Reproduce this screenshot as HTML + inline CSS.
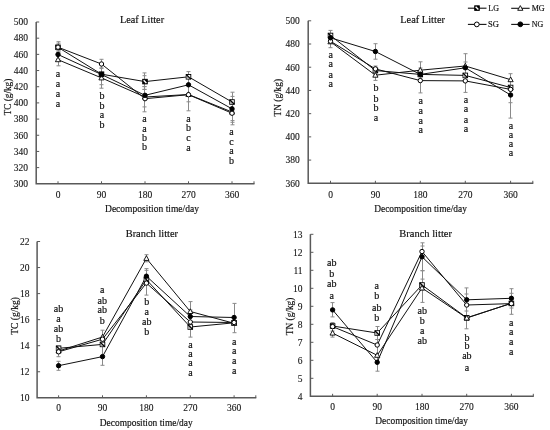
<!DOCTYPE html>
<html><head><meta charset="utf-8"><title>Chart</title>
<style>html,body{margin:0;padding:0;background:#fff;width:550px;height:430px;overflow:hidden}</style>
</head><body>
<svg width="550" height="430" viewBox="0 0 550 430" style="display:block;filter:blur(0.3px)" font-family='"Liberation Serif", serif' fill="#111"><style>.t{stroke:#111;stroke-width:0.18px}.tk{stroke-width:0.1px}</style>
<rect width="550" height="430" fill="#fff"/>
<path d="M36.2 22 V183.8 H254.5" fill="none" stroke="#595959" stroke-width="1.5"/>
<text class="t tk" x="27.9" y="187.1" font-size="9.5" text-anchor="end">300</text>
<path d="M36.2 167.62 h3" stroke="#595959" stroke-width="1"/>
<text class="t tk" x="27.9" y="170.92" font-size="9.5" text-anchor="end">320</text>
<path d="M36.2 151.44 h3" stroke="#595959" stroke-width="1"/>
<text class="t tk" x="27.9" y="154.74" font-size="9.5" text-anchor="end">340</text>
<path d="M36.2 135.26 h3" stroke="#595959" stroke-width="1"/>
<text class="t tk" x="27.9" y="138.56" font-size="9.5" text-anchor="end">360</text>
<path d="M36.2 119.08 h3" stroke="#595959" stroke-width="1"/>
<text class="t tk" x="27.9" y="122.38" font-size="9.5" text-anchor="end">380</text>
<path d="M36.2 102.9 h3" stroke="#595959" stroke-width="1"/>
<text class="t tk" x="27.9" y="106.2" font-size="9.5" text-anchor="end">400</text>
<path d="M36.2 86.72 h3" stroke="#595959" stroke-width="1"/>
<text class="t tk" x="27.9" y="90.02" font-size="9.5" text-anchor="end">420</text>
<path d="M36.2 70.54 h3" stroke="#595959" stroke-width="1"/>
<text class="t tk" x="27.9" y="73.84" font-size="9.5" text-anchor="end">440</text>
<path d="M36.2 54.36 h3" stroke="#595959" stroke-width="1"/>
<text class="t tk" x="27.9" y="57.66" font-size="9.5" text-anchor="end">460</text>
<path d="M36.2 38.18 h3" stroke="#595959" stroke-width="1"/>
<text class="t tk" x="27.9" y="41.48" font-size="9.5" text-anchor="end">480</text>
<path d="M36.2 22 h3" stroke="#595959" stroke-width="1"/>
<text class="t tk" x="27.9" y="25.3" font-size="9.5" text-anchor="end">500</text>
<path d="M58 183.8 v-2.5" stroke="#595959" stroke-width="1"/>
<text class="t tk" x="58" y="198.3" font-size="9.5" text-anchor="middle">0</text>
<path d="M101.5 183.8 v-2.5" stroke="#595959" stroke-width="1"/>
<text class="t tk" x="101.5" y="198.3" font-size="9.5" text-anchor="middle">90</text>
<path d="M145 183.8 v-2.5" stroke="#595959" stroke-width="1"/>
<text class="t tk" x="145" y="198.3" font-size="9.5" text-anchor="middle">180</text>
<path d="M188.5 183.8 v-2.5" stroke="#595959" stroke-width="1"/>
<text class="t tk" x="188.5" y="198.3" font-size="9.5" text-anchor="middle">270</text>
<path d="M232 183.8 v-2.5" stroke="#595959" stroke-width="1"/>
<text class="t tk" x="232" y="198.3" font-size="9.5" text-anchor="middle">360</text>
<path d="M254 183.8 v-2.5" stroke="#595959" stroke-width="1"/>
<text class="t" x="142" y="22.9" font-size="11" text-anchor="middle" textLength="44.2" lengthAdjust="spacingAndGlyphs">Leaf Litter</text>
<text class="t" x="152" y="212" font-size="10.5" text-anchor="middle" textLength="94" lengthAdjust="spacingAndGlyphs">Decomposition time/day</text>
<text class="t" transform="translate(11.2 97) rotate(-90)" font-size="9.5" text-anchor="middle" textLength="36.6" lengthAdjust="spacingAndGlyphs">TC (g/kg)</text>
<path d="M58.5 41.7 V52 M56.5 41.7 h4 M56.5 52 h4" stroke="#8a8a8a" stroke-width="1" fill="none"/>
<path d="M58.5 43.2 V51 M56.5 43.2 h4 M56.5 51 h4" stroke="#8a8a8a" stroke-width="1" fill="none"/>
<path d="M58.5 50 V59 M56.5 50 h4 M56.5 59 h4" stroke="#8a8a8a" stroke-width="1" fill="none"/>
<path d="M58.5 53 V65.8 M56.5 53 h4 M56.5 65.8 h4" stroke="#8a8a8a" stroke-width="1" fill="none"/>
<path d="M101.5 59.3 V67.9 M99.5 59.3 h4 M99.5 67.9 h4" stroke="#8a8a8a" stroke-width="1" fill="none"/>
<path d="M101.5 64.4 V84.7 M99.5 64.4 h4 M99.5 84.7 h4" stroke="#8a8a8a" stroke-width="1" fill="none"/>
<path d="M101.5 68.3 V88.2 M99.5 68.3 h4 M99.5 88.2 h4" stroke="#8a8a8a" stroke-width="1" fill="none"/>
<path d="M144.5 72.9 V89.4 M142.5 72.9 h4 M142.5 89.4 h4" stroke="#8a8a8a" stroke-width="1" fill="none"/>
<path d="M144.5 75.7 V86.6 M142.5 75.7 h4 M142.5 86.6 h4" stroke="#8a8a8a" stroke-width="1" fill="none"/>
<path d="M144.5 86.6 V106.9 M142.5 86.6 h4 M142.5 106.9 h4" stroke="#8a8a8a" stroke-width="1" fill="none"/>
<path d="M144.5 89.4 V111.8 M142.5 89.4 h4 M142.5 111.8 h4" stroke="#8a8a8a" stroke-width="1" fill="none"/>
<path d="M188.5 71.6 V85 M186.5 71.6 h4 M186.5 85 h4" stroke="#8a8a8a" stroke-width="1" fill="none"/>
<path d="M188.5 85 V101.8 M186.5 85 h4 M186.5 101.8 h4" stroke="#8a8a8a" stroke-width="1" fill="none"/>
<path d="M188.5 94.9 V110.8 M186.5 94.9 h4 M186.5 110.8 h4" stroke="#8a8a8a" stroke-width="1" fill="none"/>
<path d="M232.5 92.2 V112 M230.5 92.2 h4 M230.5 112 h4" stroke="#8a8a8a" stroke-width="1" fill="none"/>
<path d="M232.5 96.4 V120.6 M230.5 96.4 h4 M230.5 120.6 h4" stroke="#8a8a8a" stroke-width="1" fill="none"/>
<path d="M232.5 104 V122.3 M230.5 104 h4 M230.5 122.3 h4" stroke="#8a8a8a" stroke-width="1" fill="none"/>
<path d="M232.5 110 V124.8 M230.5 110 h4 M230.5 124.8 h4" stroke="#8a8a8a" stroke-width="1" fill="none"/>
<path d="M58 47.3 L101.5 74.2 L145 81.6 L188.5 76.8 L232 102" fill="none" stroke="#111" stroke-width="1"/>
<path d="M58 59.7 L101.5 77.9 L145 97 L188.5 94.5 L232 112" fill="none" stroke="#111" stroke-width="1"/>
<path d="M58 47.2 L101.5 64 L145 98.7 L188.5 94.7 L232 113.2" fill="none" stroke="#111" stroke-width="1"/>
<path d="M58 54.5 L101.5 74.5 L145 95.3 L188.5 84.8 L232 108.8" fill="none" stroke="#111" stroke-width="1"/>
<rect x="55.7" y="45" width="4.6" height="4.6" fill="#fff" stroke="#000" stroke-width="0.9"/>
<path d="M56.1 46.38 L56.1 49.2 L58.92 49.2 Z" fill="#aaa"/>
<path d="M55.7 45 L60.3 49.6" stroke="#000" stroke-width="1.3"/>
<rect x="99.2" y="71.9" width="4.6" height="4.6" fill="#000" stroke="#000" stroke-width="0.9"/>
<path d="M100.12 72.82 L102.88 75.58" stroke="#fff" stroke-width="1.4"/>
<rect x="142.7" y="79.3" width="4.6" height="4.6" fill="#000" stroke="#000" stroke-width="0.9"/>
<path d="M143.62 80.22 L146.38 82.98" stroke="#fff" stroke-width="1.4"/>
<rect x="186.2" y="74.5" width="4.6" height="4.6" fill="#fff" stroke="#000" stroke-width="0.9"/>
<path d="M186.6 75.88 L186.6 78.7 L189.42 78.7 Z" fill="#aaa"/>
<path d="M186.2 74.5 L190.8 79.1" stroke="#000" stroke-width="1.3"/>
<rect x="229.7" y="99.7" width="4.6" height="4.6" fill="#fff" stroke="#000" stroke-width="0.9"/>
<path d="M230.1 101.08 L230.1 103.9 L232.92 103.9 Z" fill="#aaa"/>
<path d="M229.7 99.7 L234.3 104.3" stroke="#000" stroke-width="1.3"/>
<path d="M58 57 L60.6 61.7 L55.4 61.7 Z" fill="#fff" stroke="#000" stroke-width="0.9"/>
<path d="M101.5 75.2 L104.1 79.9 L98.9 79.9 Z" fill="#fff" stroke="#000" stroke-width="0.9"/>
<path d="M145 94.3 L147.6 99 L142.4 99 Z" fill="#fff" stroke="#000" stroke-width="0.9"/>
<path d="M188.5 91.8 L191.1 96.5 L185.9 96.5 Z" fill="#fff" stroke="#000" stroke-width="0.9"/>
<path d="M232 109.3 L234.6 114 L229.4 114 Z" fill="#fff" stroke="#000" stroke-width="0.9"/>
<circle cx="58" cy="47.2" r="2.2" fill="#fff" stroke="#000" stroke-width="1"/>
<circle cx="101.5" cy="64" r="2.2" fill="#fff" stroke="#000" stroke-width="1"/>
<circle cx="145" cy="98.7" r="2.2" fill="#fff" stroke="#000" stroke-width="1"/>
<circle cx="188.5" cy="94.7" r="2.2" fill="#fff" stroke="#000" stroke-width="1"/>
<circle cx="232" cy="113.2" r="2.2" fill="#fff" stroke="#000" stroke-width="1"/>
<circle cx="58" cy="54.5" r="2.2" fill="#000" stroke="#000" stroke-width="1"/>
<circle cx="101.5" cy="74.5" r="2.2" fill="#000" stroke="#000" stroke-width="1"/>
<circle cx="145" cy="95.3" r="2.2" fill="#000" stroke="#000" stroke-width="1"/>
<circle cx="188.5" cy="84.8" r="2.2" fill="#000" stroke="#000" stroke-width="1"/>
<circle cx="232" cy="108.8" r="2.2" fill="#000" stroke="#000" stroke-width="1"/>
<text class="t" x="58.1" y="76.6" font-size="10" text-anchor="middle">a</text>
<text class="t" x="58.1" y="86.8" font-size="10" text-anchor="middle">a</text>
<text class="t" x="58.1" y="96.9" font-size="10" text-anchor="middle">a</text>
<text class="t" x="58.1" y="106.7" font-size="10" text-anchor="middle">a</text>
<text class="t" x="102" y="99.2" font-size="10" text-anchor="middle">b</text>
<text class="t" x="102" y="108.9" font-size="10" text-anchor="middle">b</text>
<text class="t" x="102" y="118.4" font-size="10" text-anchor="middle">a</text>
<text class="t" x="102" y="128.3" font-size="10" text-anchor="middle">b</text>
<text class="t" x="144.6" y="121.7" font-size="10" text-anchor="middle">a</text>
<text class="t" x="144.6" y="131.5" font-size="10" text-anchor="middle">a</text>
<text class="t" x="144.6" y="141.4" font-size="10" text-anchor="middle">b</text>
<text class="t" x="144.6" y="150.3" font-size="10" text-anchor="middle">b</text>
<text class="t" x="188.6" y="121.5" font-size="10" text-anchor="middle">a</text>
<text class="t" x="188.6" y="130.6" font-size="10" text-anchor="middle">b</text>
<text class="t" x="188.6" y="141.2" font-size="10" text-anchor="middle">c</text>
<text class="t" x="188.6" y="150.8" font-size="10" text-anchor="middle">a</text>
<text class="t" x="231.6" y="134.8" font-size="10" text-anchor="middle">a</text>
<text class="t" x="231.6" y="144.5" font-size="10" text-anchor="middle">c</text>
<text class="t" x="231.6" y="153.9" font-size="10" text-anchor="middle">a</text>
<text class="t" x="231.6" y="164.2" font-size="10" text-anchor="middle">b</text>
<path d="M308.2 20.8 V183.3 H533.3" fill="none" stroke="#595959" stroke-width="1.5"/>
<text class="t tk" x="299.8" y="186.6" font-size="9.5" text-anchor="end">360</text>
<path d="M308.2 160.09 h3" stroke="#595959" stroke-width="1"/>
<text class="t tk" x="299.8" y="163.39" font-size="9.5" text-anchor="end">380</text>
<path d="M308.2 136.87 h3" stroke="#595959" stroke-width="1"/>
<text class="t tk" x="299.8" y="140.17" font-size="9.5" text-anchor="end">400</text>
<path d="M308.2 113.66 h3" stroke="#595959" stroke-width="1"/>
<text class="t tk" x="299.8" y="116.96" font-size="9.5" text-anchor="end">420</text>
<path d="M308.2 90.44 h3" stroke="#595959" stroke-width="1"/>
<text class="t tk" x="299.8" y="93.74" font-size="9.5" text-anchor="end">440</text>
<path d="M308.2 67.23 h3" stroke="#595959" stroke-width="1"/>
<text class="t tk" x="299.8" y="70.53" font-size="9.5" text-anchor="end">460</text>
<path d="M308.2 44.01 h3" stroke="#595959" stroke-width="1"/>
<text class="t tk" x="299.8" y="47.31" font-size="9.5" text-anchor="end">480</text>
<path d="M308.2 20.8 h3" stroke="#595959" stroke-width="1"/>
<text class="t tk" x="299.8" y="24.1" font-size="9.5" text-anchor="end">500</text>
<path d="M330.5 183.3 v-2.5" stroke="#595959" stroke-width="1"/>
<text class="t tk" x="330.5" y="198.3" font-size="9.5" text-anchor="middle">0</text>
<path d="M375.4 183.3 v-2.5" stroke="#595959" stroke-width="1"/>
<text class="t tk" x="375.4" y="198.3" font-size="9.5" text-anchor="middle">90</text>
<path d="M420.3 183.3 v-2.5" stroke="#595959" stroke-width="1"/>
<text class="t tk" x="420.3" y="198.3" font-size="9.5" text-anchor="middle">180</text>
<path d="M465.3 183.3 v-2.5" stroke="#595959" stroke-width="1"/>
<text class="t tk" x="465.3" y="198.3" font-size="9.5" text-anchor="middle">270</text>
<path d="M510.6 183.3 v-2.5" stroke="#595959" stroke-width="1"/>
<text class="t tk" x="510.6" y="198.3" font-size="9.5" text-anchor="middle">360</text>
<path d="M532.8 183.3 v-2.5" stroke="#595959" stroke-width="1"/>
<text class="t" x="422.6" y="22.7" font-size="11" text-anchor="middle" textLength="44.8" lengthAdjust="spacingAndGlyphs">Leaf Litter</text>
<text class="t" x="420.55" y="212" font-size="10.5" text-anchor="middle" textLength="92.7" lengthAdjust="spacingAndGlyphs">Decomposition time/day</text>
<text class="t" transform="translate(280.6 97.7) rotate(-90)" font-size="9.5" text-anchor="middle" textLength="37.4" lengthAdjust="spacingAndGlyphs">TN (g/kg)</text>
<path d="M330.5 30.4 V41 M328.5 30.4 h4 M328.5 41 h4" stroke="#8a8a8a" stroke-width="1" fill="none"/>
<path d="M330.5 34 V47.7 M328.5 34 h4 M328.5 47.7 h4" stroke="#8a8a8a" stroke-width="1" fill="none"/>
<path d="M375.5 43.7 V59.2 M373.5 43.7 h4 M373.5 59.2 h4" stroke="#8a8a8a" stroke-width="1" fill="none"/>
<path d="M375.5 66 V74 M373.5 66 h4 M373.5 74 h4" stroke="#8a8a8a" stroke-width="1" fill="none"/>
<path d="M375.5 70.6 V80.4 M373.5 70.6 h4 M373.5 80.4 h4" stroke="#8a8a8a" stroke-width="1" fill="none"/>
<path d="M420.5 61.8 V78 M418.5 61.8 h4 M418.5 78 h4" stroke="#8a8a8a" stroke-width="1" fill="none"/>
<path d="M420.5 68 V92.9 M418.5 68 h4 M418.5 92.9 h4" stroke="#8a8a8a" stroke-width="1" fill="none"/>
<path d="M465.5 53.7 V80 M463.5 53.7 h4 M463.5 80 h4" stroke="#8a8a8a" stroke-width="1" fill="none"/>
<path d="M465.5 62 V92.4 M463.5 62 h4 M463.5 92.4 h4" stroke="#8a8a8a" stroke-width="1" fill="none"/>
<path d="M510.5 73.7 V118.1 M508.5 73.7 h4 M508.5 118.1 h4" stroke="#8a8a8a" stroke-width="1" fill="none"/>
<path d="M510.5 80 V102.7 M508.5 80 h4 M508.5 102.7 h4" stroke="#8a8a8a" stroke-width="1" fill="none"/>
<path d="M330.5 35.5 L375.4 70.5 L420.3 74.4 L465.3 75.4 L510.6 87.5" fill="none" stroke="#111" stroke-width="1"/>
<path d="M330.5 41.8 L375.4 75.2 L420.3 70.2 L465.3 66 L510.6 79.7" fill="none" stroke="#111" stroke-width="1"/>
<path d="M330.5 41.2 L375.4 68.9 L420.3 80.6 L465.3 80.9 L510.6 89.4" fill="none" stroke="#111" stroke-width="1"/>
<path d="M330.5 37.8 L375.4 51.5 L420.3 74.4 L465.3 67.8 L510.6 95" fill="none" stroke="#111" stroke-width="1"/>
<rect x="328.2" y="33.2" width="4.6" height="4.6" fill="#fff" stroke="#000" stroke-width="0.9"/>
<path d="M328.6 34.58 L328.6 37.4 L331.42 37.4 Z" fill="#aaa"/>
<path d="M328.2 33.2 L332.8 37.8" stroke="#000" stroke-width="1.3"/>
<rect x="373.1" y="68.2" width="4.6" height="4.6" fill="#fff" stroke="#000" stroke-width="0.9"/>
<path d="M373.5 69.58 L373.5 72.4 L376.32 72.4 Z" fill="#aaa"/>
<path d="M373.1 68.2 L377.7 72.8" stroke="#000" stroke-width="1.3"/>
<rect x="418" y="72.1" width="4.6" height="4.6" fill="#fff" stroke="#000" stroke-width="0.9"/>
<path d="M418.4 73.48 L418.4 76.3 L421.22 76.3 Z" fill="#aaa"/>
<path d="M418 72.1 L422.6 76.7" stroke="#000" stroke-width="1.3"/>
<rect x="463" y="73.1" width="4.6" height="4.6" fill="#fff" stroke="#000" stroke-width="0.9"/>
<path d="M463.4 74.48 L463.4 77.3 L466.22 77.3 Z" fill="#aaa"/>
<path d="M463 73.1 L467.6 77.7" stroke="#000" stroke-width="1.3"/>
<rect x="508.3" y="85.2" width="4.6" height="4.6" fill="#fff" stroke="#000" stroke-width="0.9"/>
<path d="M508.7 86.58 L508.7 89.4 L511.52 89.4 Z" fill="#aaa"/>
<path d="M508.3 85.2 L512.9 89.8" stroke="#000" stroke-width="1.3"/>
<path d="M330.5 39.1 L333.1 43.8 L327.9 43.8 Z" fill="#fff" stroke="#000" stroke-width="0.9"/>
<path d="M375.4 72.5 L378 77.2 L372.8 77.2 Z" fill="#fff" stroke="#000" stroke-width="0.9"/>
<path d="M420.3 67.5 L422.9 72.2 L417.7 72.2 Z" fill="#fff" stroke="#000" stroke-width="0.9"/>
<path d="M465.3 63.3 L467.9 68 L462.7 68 Z" fill="#fff" stroke="#000" stroke-width="0.9"/>
<path d="M510.6 77 L513.2 81.7 L508 81.7 Z" fill="#fff" stroke="#000" stroke-width="0.9"/>
<circle cx="330.5" cy="41.2" r="2.2" fill="#fff" stroke="#000" stroke-width="1"/>
<circle cx="375.4" cy="68.9" r="2.2" fill="#fff" stroke="#000" stroke-width="1"/>
<circle cx="420.3" cy="80.6" r="2.2" fill="#fff" stroke="#000" stroke-width="1"/>
<circle cx="465.3" cy="80.9" r="2.2" fill="#fff" stroke="#000" stroke-width="1"/>
<circle cx="510.6" cy="89.4" r="2.2" fill="#fff" stroke="#000" stroke-width="1"/>
<circle cx="330.5" cy="37.8" r="2.2" fill="#000" stroke="#000" stroke-width="1"/>
<circle cx="375.4" cy="51.5" r="2.2" fill="#000" stroke="#000" stroke-width="1"/>
<circle cx="420.3" cy="74.4" r="2.2" fill="#000" stroke="#000" stroke-width="1"/>
<circle cx="465.3" cy="67.8" r="2.2" fill="#000" stroke="#000" stroke-width="1"/>
<circle cx="510.6" cy="95" r="2.2" fill="#000" stroke="#000" stroke-width="1"/>
<text class="t" x="330.7" y="58" font-size="10" text-anchor="middle">a</text>
<text class="t" x="330.7" y="67.2" font-size="10" text-anchor="middle">a</text>
<text class="t" x="330.7" y="77.8" font-size="10" text-anchor="middle">a</text>
<text class="t" x="330.7" y="86.9" font-size="10" text-anchor="middle">a</text>
<text class="t" x="376" y="91" font-size="10" text-anchor="middle">b</text>
<text class="t" x="376" y="101.5" font-size="10" text-anchor="middle">b</text>
<text class="t" x="376" y="111.4" font-size="10" text-anchor="middle">b</text>
<text class="t" x="376" y="120.8" font-size="10" text-anchor="middle">a</text>
<text class="t" x="420.7" y="103.5" font-size="10" text-anchor="middle">a</text>
<text class="t" x="420.7" y="113.5" font-size="10" text-anchor="middle">a</text>
<text class="t" x="420.7" y="124" font-size="10" text-anchor="middle">a</text>
<text class="t" x="420.7" y="133" font-size="10" text-anchor="middle">a</text>
<text class="t" x="466" y="102.7" font-size="10" text-anchor="middle">a</text>
<text class="t" x="466" y="112.4" font-size="10" text-anchor="middle">a</text>
<text class="t" x="466" y="122.6" font-size="10" text-anchor="middle">a</text>
<text class="t" x="466" y="132.1" font-size="10" text-anchor="middle">a</text>
<text class="t" x="511" y="128.6" font-size="10" text-anchor="middle">a</text>
<text class="t" x="511" y="137.5" font-size="10" text-anchor="middle">a</text>
<text class="t" x="511" y="146.9" font-size="10" text-anchor="middle">a</text>
<text class="t" x="511" y="156.4" font-size="10" text-anchor="middle">a</text>
<path d="M37.1 241.5 V397.8 H256.3" fill="none" stroke="#595959" stroke-width="1.5"/>
<text class="t tk" x="29.6" y="401.1" font-size="9.5" text-anchor="end">10</text>
<path d="M37.1 371.75 h3" stroke="#595959" stroke-width="1"/>
<text class="t tk" x="29.6" y="375.05" font-size="9.5" text-anchor="end">12</text>
<path d="M37.1 345.7 h3" stroke="#595959" stroke-width="1"/>
<text class="t tk" x="29.6" y="349" font-size="9.5" text-anchor="end">14</text>
<path d="M37.1 319.65 h3" stroke="#595959" stroke-width="1"/>
<text class="t tk" x="29.6" y="322.95" font-size="9.5" text-anchor="end">16</text>
<path d="M37.1 293.6 h3" stroke="#595959" stroke-width="1"/>
<text class="t tk" x="29.6" y="296.9" font-size="9.5" text-anchor="end">18</text>
<path d="M37.1 267.55 h3" stroke="#595959" stroke-width="1"/>
<text class="t tk" x="29.6" y="270.85" font-size="9.5" text-anchor="end">20</text>
<path d="M37.1 241.5 h3" stroke="#595959" stroke-width="1"/>
<text class="t tk" x="29.6" y="244.8" font-size="9.5" text-anchor="end">22</text>
<path d="M58.6 397.8 v-2.5" stroke="#595959" stroke-width="1"/>
<text class="t tk" x="58.6" y="411.3" font-size="9.5" text-anchor="middle">0</text>
<path d="M102.5 397.8 v-2.5" stroke="#595959" stroke-width="1"/>
<text class="t tk" x="102.5" y="411.3" font-size="9.5" text-anchor="middle">90</text>
<path d="M146.4 397.8 v-2.5" stroke="#595959" stroke-width="1"/>
<text class="t tk" x="146.4" y="411.3" font-size="9.5" text-anchor="middle">180</text>
<path d="M190.3 397.8 v-2.5" stroke="#595959" stroke-width="1"/>
<text class="t tk" x="190.3" y="411.3" font-size="9.5" text-anchor="middle">270</text>
<path d="M234.1 397.8 v-2.5" stroke="#595959" stroke-width="1"/>
<text class="t tk" x="234.1" y="411.3" font-size="9.5" text-anchor="middle">360</text>
<path d="M255.8 397.8 v-2.5" stroke="#595959" stroke-width="1"/>
<text class="t" x="151.9" y="236.9" font-size="11" text-anchor="middle" textLength="52.4" lengthAdjust="spacingAndGlyphs">Branch litter</text>
<text class="t" x="146.2" y="425.7" font-size="10.5" text-anchor="middle" textLength="92.8" lengthAdjust="spacingAndGlyphs">Decomposition time/day</text>
<text class="t" transform="translate(17.6 315.9) rotate(-90)" font-size="9.5" text-anchor="middle" textLength="37.8" lengthAdjust="spacingAndGlyphs">TC (g/kg)</text>
<path d="M58.5 346 V351 M56.5 346 h4 M56.5 351 h4" stroke="#8a8a8a" stroke-width="1" fill="none"/>
<path d="M58.5 349 V356.7 M56.5 349 h4 M56.5 356.7 h4" stroke="#8a8a8a" stroke-width="1" fill="none"/>
<path d="M58.5 361.3 V370.3 M56.5 361.3 h4 M56.5 370.3 h4" stroke="#8a8a8a" stroke-width="1" fill="none"/>
<path d="M102.5 330.2 V346 M100.5 330.2 h4 M100.5 346 h4" stroke="#8a8a8a" stroke-width="1" fill="none"/>
<path d="M102.5 340 V365.3 M100.5 340 h4 M100.5 365.3 h4" stroke="#8a8a8a" stroke-width="1" fill="none"/>
<path d="M146.5 254.7 V261.8 M144.5 254.7 h4 M144.5 261.8 h4" stroke="#8a8a8a" stroke-width="1" fill="none"/>
<path d="M146.5 268.6 V284 M144.5 268.6 h4 M144.5 284 h4" stroke="#8a8a8a" stroke-width="1" fill="none"/>
<path d="M146.5 270.3 V295.1 M144.5 270.3 h4 M144.5 295.1 h4" stroke="#8a8a8a" stroke-width="1" fill="none"/>
<path d="M190.5 301.6 V322 M188.5 301.6 h4 M188.5 322 h4" stroke="#8a8a8a" stroke-width="1" fill="none"/>
<path d="M190.5 310 V337.1 M188.5 310 h4 M188.5 337.1 h4" stroke="#8a8a8a" stroke-width="1" fill="none"/>
<path d="M234.5 303.4 V332.7 M232.5 303.4 h4 M232.5 332.7 h4" stroke="#8a8a8a" stroke-width="1" fill="none"/>
<path d="M58.6 348.3 L102.5 344.4 L146.4 279.7 L190.3 327 L234.1 322.8" fill="none" stroke="#111" stroke-width="1"/>
<path d="M58.6 351 L102.5 337 L146.4 258.4 L190.3 311.5 L234.1 323.3" fill="none" stroke="#111" stroke-width="1"/>
<path d="M58.6 351.8 L102.5 339.2 L146.4 283.1 L190.3 322 L234.1 322.5" fill="none" stroke="#111" stroke-width="1"/>
<path d="M58.6 365.7 L102.5 356.6 L146.4 276.2 L190.3 316.5 L234.1 317.5" fill="none" stroke="#111" stroke-width="1"/>
<rect x="56.3" y="346" width="4.6" height="4.6" fill="#fff" stroke="#000" stroke-width="0.9"/>
<path d="M56.7 347.38 L56.7 350.2 L59.52 350.2 Z" fill="#aaa"/>
<path d="M56.3 346 L60.9 350.6" stroke="#000" stroke-width="1.3"/>
<rect x="100.2" y="342.1" width="4.6" height="4.6" fill="#fff" stroke="#000" stroke-width="0.9"/>
<path d="M100.6 343.48 L100.6 346.3 L103.42 346.3 Z" fill="#aaa"/>
<path d="M100.2 342.1 L104.8 346.7" stroke="#000" stroke-width="1.3"/>
<rect x="144.1" y="277.4" width="4.6" height="4.6" fill="#fff" stroke="#000" stroke-width="0.9"/>
<path d="M144.5 278.78 L144.5 281.6 L147.32 281.6 Z" fill="#aaa"/>
<path d="M144.1 277.4 L148.7 282" stroke="#000" stroke-width="1.3"/>
<rect x="188" y="324.7" width="4.6" height="4.6" fill="#fff" stroke="#000" stroke-width="0.9"/>
<path d="M188.4 326.08 L188.4 328.9 L191.22 328.9 Z" fill="#aaa"/>
<path d="M188 324.7 L192.6 329.3" stroke="#000" stroke-width="1.3"/>
<rect x="231.8" y="320.5" width="4.6" height="4.6" fill="#fff" stroke="#000" stroke-width="0.9"/>
<path d="M232.2 321.88 L232.2 324.7 L235.02 324.7 Z" fill="#aaa"/>
<path d="M231.8 320.5 L236.4 325.1" stroke="#000" stroke-width="1.3"/>
<path d="M58.6 348.3 L61.2 353 L56 353 Z" fill="#fff" stroke="#000" stroke-width="0.9"/>
<path d="M102.5 334.3 L105.1 339 L99.9 339 Z" fill="#fff" stroke="#000" stroke-width="0.9"/>
<path d="M146.4 255.7 L149 260.4 L143.8 260.4 Z" fill="#fff" stroke="#000" stroke-width="0.9"/>
<path d="M190.3 308.8 L192.9 313.5 L187.7 313.5 Z" fill="#fff" stroke="#000" stroke-width="0.9"/>
<path d="M234.1 320.6 L236.7 325.3 L231.5 325.3 Z" fill="#fff" stroke="#000" stroke-width="0.9"/>
<circle cx="58.6" cy="351.8" r="2.2" fill="#fff" stroke="#000" stroke-width="1"/>
<circle cx="102.5" cy="339.2" r="2.2" fill="#fff" stroke="#000" stroke-width="1"/>
<circle cx="146.4" cy="283.1" r="2.2" fill="#fff" stroke="#000" stroke-width="1"/>
<circle cx="190.3" cy="322" r="2.2" fill="#fff" stroke="#000" stroke-width="1"/>
<circle cx="234.1" cy="322.5" r="2.2" fill="#fff" stroke="#000" stroke-width="1"/>
<circle cx="58.6" cy="365.7" r="2.2" fill="#000" stroke="#000" stroke-width="1"/>
<circle cx="102.5" cy="356.6" r="2.2" fill="#000" stroke="#000" stroke-width="1"/>
<circle cx="146.4" cy="276.2" r="2.2" fill="#000" stroke="#000" stroke-width="1"/>
<circle cx="190.3" cy="316.5" r="2.2" fill="#000" stroke="#000" stroke-width="1"/>
<circle cx="234.1" cy="317.5" r="2.2" fill="#000" stroke="#000" stroke-width="1"/>
<text class="t" x="58.5" y="312.2" font-size="10" text-anchor="middle">ab</text>
<text class="t" x="58.5" y="322.1" font-size="10" text-anchor="middle">a</text>
<text class="t" x="58.5" y="332" font-size="10" text-anchor="middle">ab</text>
<text class="t" x="58.5" y="341.9" font-size="10" text-anchor="middle">b</text>
<text class="t" x="102.2" y="292.7" font-size="10" text-anchor="middle">a</text>
<text class="t" x="102.2" y="303.5" font-size="10" text-anchor="middle">ab</text>
<text class="t" x="102.2" y="313.4" font-size="10" text-anchor="middle">ab</text>
<text class="t" x="102.2" y="323.9" font-size="10" text-anchor="middle">b</text>
<text class="t" x="146.8" y="305.3" font-size="10" text-anchor="middle">b</text>
<text class="t" x="146.8" y="314.7" font-size="10" text-anchor="middle">a</text>
<text class="t" x="146.8" y="324.9" font-size="10" text-anchor="middle">ab</text>
<text class="t" x="146.8" y="334.8" font-size="10" text-anchor="middle">b</text>
<text class="t" x="190.6" y="347.6" font-size="10" text-anchor="middle">a</text>
<text class="t" x="190.6" y="357.4" font-size="10" text-anchor="middle">a</text>
<text class="t" x="190.6" y="366.4" font-size="10" text-anchor="middle">a</text>
<text class="t" x="190.6" y="375.7" font-size="10" text-anchor="middle">a</text>
<text class="t" x="234.2" y="344.9" font-size="10" text-anchor="middle">a</text>
<text class="t" x="234.2" y="354.2" font-size="10" text-anchor="middle">a</text>
<text class="t" x="234.2" y="363.7" font-size="10" text-anchor="middle">a</text>
<text class="t" x="234.2" y="373.6" font-size="10" text-anchor="middle">a</text>
<path d="M310.4 234.3 V396.3 H533.8" fill="none" stroke="#595959" stroke-width="1.5"/>
<text class="t tk" x="302.6" y="399.6" font-size="9.5" text-anchor="end">4</text>
<path d="M310.4 378.3 h3" stroke="#595959" stroke-width="1"/>
<text class="t tk" x="302.6" y="381.6" font-size="9.5" text-anchor="end">5</text>
<path d="M310.4 360.3 h3" stroke="#595959" stroke-width="1"/>
<text class="t tk" x="302.6" y="363.6" font-size="9.5" text-anchor="end">6</text>
<path d="M310.4 342.3 h3" stroke="#595959" stroke-width="1"/>
<text class="t tk" x="302.6" y="345.6" font-size="9.5" text-anchor="end">7</text>
<path d="M310.4 324.3 h3" stroke="#595959" stroke-width="1"/>
<text class="t tk" x="302.6" y="327.6" font-size="9.5" text-anchor="end">8</text>
<path d="M310.4 306.3 h3" stroke="#595959" stroke-width="1"/>
<text class="t tk" x="302.6" y="309.6" font-size="9.5" text-anchor="end">9</text>
<path d="M310.4 288.3 h3" stroke="#595959" stroke-width="1"/>
<text class="t tk" x="302.6" y="291.6" font-size="9.5" text-anchor="end">10</text>
<path d="M310.4 270.3 h3" stroke="#595959" stroke-width="1"/>
<text class="t tk" x="302.6" y="273.6" font-size="9.5" text-anchor="end">11</text>
<path d="M310.4 252.3 h3" stroke="#595959" stroke-width="1"/>
<text class="t tk" x="302.6" y="255.6" font-size="9.5" text-anchor="end">12</text>
<path d="M310.4 234.3 h3" stroke="#595959" stroke-width="1"/>
<text class="t tk" x="302.6" y="237.6" font-size="9.5" text-anchor="end">13</text>
<path d="M332.6 396.3 v-2.5" stroke="#595959" stroke-width="1"/>
<text class="t tk" x="332.6" y="409.8" font-size="9.5" text-anchor="middle">0</text>
<path d="M377.2 396.3 v-2.5" stroke="#595959" stroke-width="1"/>
<text class="t tk" x="377.2" y="409.8" font-size="9.5" text-anchor="middle">90</text>
<path d="M422 396.3 v-2.5" stroke="#595959" stroke-width="1"/>
<text class="t tk" x="422" y="409.8" font-size="9.5" text-anchor="middle">180</text>
<path d="M466.7 396.3 v-2.5" stroke="#595959" stroke-width="1"/>
<text class="t tk" x="466.7" y="409.8" font-size="9.5" text-anchor="middle">270</text>
<path d="M511.4 396.3 v-2.5" stroke="#595959" stroke-width="1"/>
<text class="t tk" x="511.4" y="409.8" font-size="9.5" text-anchor="middle">360</text>
<path d="M533.3 396.3 v-2.5" stroke="#595959" stroke-width="1"/>
<text class="t" x="425.65" y="236.6" font-size="11" text-anchor="middle" textLength="52.7" lengthAdjust="spacingAndGlyphs">Branch litter</text>
<text class="t" x="421.65" y="423.6" font-size="10.5" text-anchor="middle" textLength="92.7" lengthAdjust="spacingAndGlyphs">Decomposition time/day</text>
<text class="t" transform="translate(293.3 316.45) rotate(-90)" font-size="9.5" text-anchor="middle" textLength="37.7" lengthAdjust="spacingAndGlyphs">TN (g/kg)</text>
<path d="M332.5 302.6 V316.9 M330.5 302.6 h4 M330.5 316.9 h4" stroke="#8a8a8a" stroke-width="1" fill="none"/>
<path d="M332.5 322.6 V331 M330.5 322.6 h4 M330.5 331 h4" stroke="#8a8a8a" stroke-width="1" fill="none"/>
<path d="M332.5 328 V337.1 M330.5 328 h4 M330.5 337.1 h4" stroke="#8a8a8a" stroke-width="1" fill="none"/>
<path d="M377.5 326.5 V339.5 M375.5 326.5 h4 M375.5 339.5 h4" stroke="#8a8a8a" stroke-width="1" fill="none"/>
<path d="M377.5 339.5 V371.2 M375.5 339.5 h4 M375.5 371.2 h4" stroke="#8a8a8a" stroke-width="1" fill="none"/>
<path d="M422.5 242.8 V258.5 M420.5 242.8 h4 M420.5 258.5 h4" stroke="#8a8a8a" stroke-width="1" fill="none"/>
<path d="M422.5 246 V270.7 M420.5 246 h4 M420.5 270.7 h4" stroke="#8a8a8a" stroke-width="1" fill="none"/>
<path d="M422.5 279.1 V290 M420.5 279.1 h4 M420.5 290 h4" stroke="#8a8a8a" stroke-width="1" fill="none"/>
<path d="M422.5 270.7 V302.4 M420.5 270.7 h4 M420.5 302.4 h4" stroke="#8a8a8a" stroke-width="1" fill="none"/>
<path d="M466.5 287.9 V311 M464.5 287.9 h4 M464.5 311 h4" stroke="#8a8a8a" stroke-width="1" fill="none"/>
<path d="M466.5 294 V328.8 M464.5 294 h4 M464.5 328.8 h4" stroke="#8a8a8a" stroke-width="1" fill="none"/>
<path d="M511.5 288.7 V308 M509.5 288.7 h4 M509.5 308 h4" stroke="#8a8a8a" stroke-width="1" fill="none"/>
<path d="M511.5 293.3 V314.3 M509.5 293.3 h4 M509.5 314.3 h4" stroke="#8a8a8a" stroke-width="1" fill="none"/>
<path d="M332.6 326 L377.2 333 L422 285 L466.7 317.8 L511.4 303.4" fill="none" stroke="#111" stroke-width="1"/>
<path d="M332.6 333.1 L377.2 355.3 L422 288 L466.7 318 L511.4 303.2" fill="none" stroke="#111" stroke-width="1"/>
<path d="M332.6 326.6 L377.2 345 L422 251.5 L466.7 305 L511.4 303.6" fill="none" stroke="#111" stroke-width="1"/>
<path d="M332.6 309.9 L377.2 362.3 L422 256.8 L466.7 299.8 L511.4 298.3" fill="none" stroke="#111" stroke-width="1"/>
<rect x="330.3" y="323.7" width="4.6" height="4.6" fill="#fff" stroke="#000" stroke-width="0.9"/>
<path d="M330.7 325.08 L330.7 327.9 L333.52 327.9 Z" fill="#aaa"/>
<path d="M330.3 323.7 L334.9 328.3" stroke="#000" stroke-width="1.3"/>
<rect x="374.9" y="330.7" width="4.6" height="4.6" fill="#fff" stroke="#000" stroke-width="0.9"/>
<path d="M375.3 332.08 L375.3 334.9 L378.12 334.9 Z" fill="#aaa"/>
<path d="M374.9 330.7 L379.5 335.3" stroke="#000" stroke-width="1.3"/>
<rect x="419.7" y="282.7" width="4.6" height="4.6" fill="#fff" stroke="#000" stroke-width="0.9"/>
<path d="M420.1 284.08 L420.1 286.9 L422.92 286.9 Z" fill="#aaa"/>
<path d="M419.7 282.7 L424.3 287.3" stroke="#000" stroke-width="1.3"/>
<rect x="464.4" y="315.5" width="4.6" height="4.6" fill="#fff" stroke="#000" stroke-width="0.9"/>
<path d="M464.8 316.88 L464.8 319.7 L467.62 319.7 Z" fill="#aaa"/>
<path d="M464.4 315.5 L469 320.1" stroke="#000" stroke-width="1.3"/>
<rect x="509.1" y="301.1" width="4.6" height="4.6" fill="#fff" stroke="#000" stroke-width="0.9"/>
<path d="M509.5 302.48 L509.5 305.3 L512.32 305.3 Z" fill="#aaa"/>
<path d="M509.1 301.1 L513.7 305.7" stroke="#000" stroke-width="1.3"/>
<path d="M332.6 330.4 L335.2 335.1 L330 335.1 Z" fill="#fff" stroke="#000" stroke-width="0.9"/>
<path d="M377.2 352.6 L379.8 357.3 L374.6 357.3 Z" fill="#fff" stroke="#000" stroke-width="0.9"/>
<path d="M422 285.3 L424.6 290 L419.4 290 Z" fill="#fff" stroke="#000" stroke-width="0.9"/>
<path d="M466.7 315.3 L469.3 320 L464.1 320 Z" fill="#fff" stroke="#000" stroke-width="0.9"/>
<path d="M511.4 300.5 L514 305.2 L508.8 305.2 Z" fill="#fff" stroke="#000" stroke-width="0.9"/>
<circle cx="332.6" cy="326.6" r="2.2" fill="#fff" stroke="#000" stroke-width="1"/>
<circle cx="377.2" cy="345" r="2.2" fill="#fff" stroke="#000" stroke-width="1"/>
<circle cx="422" cy="251.5" r="2.2" fill="#fff" stroke="#000" stroke-width="1"/>
<circle cx="466.7" cy="305" r="2.2" fill="#fff" stroke="#000" stroke-width="1"/>
<circle cx="511.4" cy="303.6" r="2.2" fill="#fff" stroke="#000" stroke-width="1"/>
<circle cx="332.6" cy="309.9" r="2.2" fill="#000" stroke="#000" stroke-width="1"/>
<circle cx="377.2" cy="362.3" r="2.2" fill="#000" stroke="#000" stroke-width="1"/>
<circle cx="422" cy="256.8" r="2.2" fill="#000" stroke="#000" stroke-width="1"/>
<circle cx="466.7" cy="299.8" r="2.2" fill="#000" stroke="#000" stroke-width="1"/>
<circle cx="511.4" cy="298.3" r="2.2" fill="#000" stroke="#000" stroke-width="1"/>
<text class="t" x="331.8" y="265.7" font-size="10" text-anchor="middle">ab</text>
<text class="t" x="331.8" y="277.1" font-size="10" text-anchor="middle">b</text>
<text class="t" x="331.8" y="287" font-size="10" text-anchor="middle">ab</text>
<text class="t" x="331.8" y="298.6" font-size="10" text-anchor="middle">a</text>
<text class="t" x="376.8" y="288.6" font-size="10" text-anchor="middle">a</text>
<text class="t" x="376.8" y="299.3" font-size="10" text-anchor="middle">b</text>
<text class="t" x="376.8" y="310.7" font-size="10" text-anchor="middle">ab</text>
<text class="t" x="376.8" y="320.9" font-size="10" text-anchor="middle">b</text>
<text class="t" x="422.2" y="313.8" font-size="10" text-anchor="middle">ab</text>
<text class="t" x="422.2" y="324" font-size="10" text-anchor="middle">b</text>
<text class="t" x="422.2" y="334.1" font-size="10" text-anchor="middle">a</text>
<text class="t" x="422.2" y="344.1" font-size="10" text-anchor="middle">ab</text>
<text class="t" x="466.9" y="340.5" font-size="10" text-anchor="middle">b</text>
<text class="t" x="466.9" y="349.4" font-size="10" text-anchor="middle">b</text>
<text class="t" x="466.9" y="359.3" font-size="10" text-anchor="middle">ab</text>
<text class="t" x="466.9" y="371" font-size="10" text-anchor="middle">a</text>
<text class="t" x="511.2" y="326" font-size="10" text-anchor="middle">a</text>
<text class="t" x="511.2" y="335.4" font-size="10" text-anchor="middle">a</text>
<text class="t" x="511.2" y="344.5" font-size="10" text-anchor="middle">a</text>
<text class="t" x="511.2" y="355.3" font-size="10" text-anchor="middle">a</text>
<path d="M467.9 8.2 H486.5" stroke="#111" stroke-width="1.1"/>
<rect x="474.7" y="5.8" width="4.6" height="4.6" fill="#000" stroke="#000" stroke-width="0.9"/>
<path d="M475.62 6.72 L478.38 9.48" stroke="#fff" stroke-width="1.4"/>
<path d="M511.2 8.3 H529.6" stroke="#111" stroke-width="1.1"/>
<path d="M520.3 5.6 L522.9 10.3 L517.7 10.3 Z" fill="#fff" stroke="#000" stroke-width="0.9"/>
<path d="M467.9 24.4 H486.5" stroke="#111" stroke-width="1.1"/>
<circle cx="476.8" cy="24.4" r="2.4" fill="#fff" stroke="#000" stroke-width="1"/>
<path d="M511.2 24.4 H529.6" stroke="#111" stroke-width="1.1"/>
<circle cx="520.3" cy="24.3" r="2.4" fill="#000" stroke="#000" stroke-width="1"/>
<text class="t" x="488.3" y="10.9" font-size="8.5" textLength="10.6" lengthAdjust="spacingAndGlyphs">LG</text>
<text class="t" x="531.7" y="10.9" font-size="8.5" textLength="13" lengthAdjust="spacingAndGlyphs">MG</text>
<text class="t" x="488.1" y="27" font-size="8.5" textLength="10.9" lengthAdjust="spacingAndGlyphs">SG</text>
<text class="t" x="531.7" y="27" font-size="8.5" textLength="11.5" lengthAdjust="spacingAndGlyphs">NG</text>
</svg>
</body></html>
